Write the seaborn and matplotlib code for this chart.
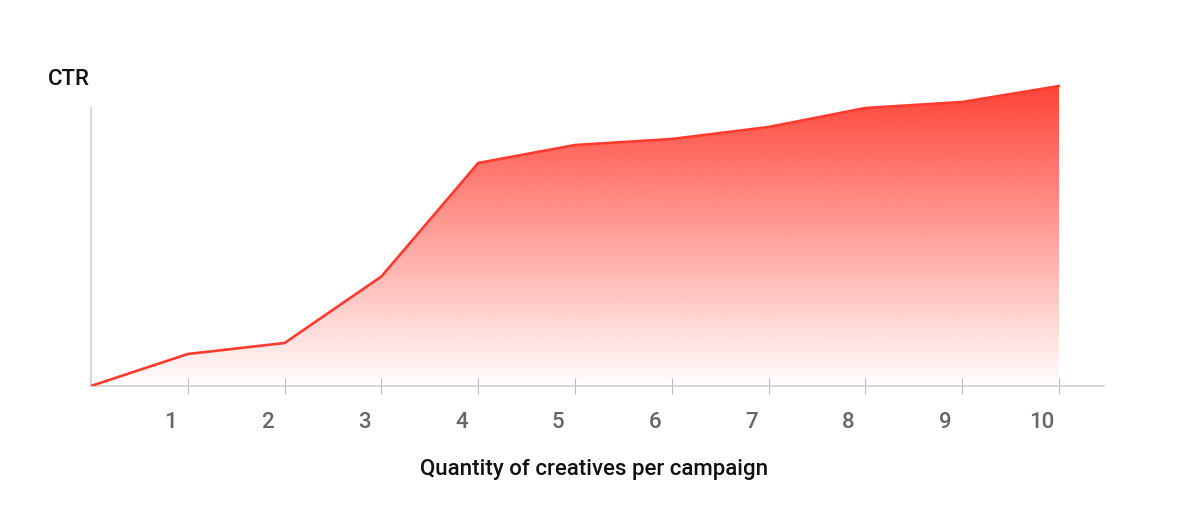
import numpy as np
import pandas as pd
import matplotlib
matplotlib.use("Agg")
import matplotlib.pyplot as plt
import matplotlib.transforms as mtransforms
import seaborn as sns

# ---- data ----
creatives = [0, 1, 2, 3, 4, 5, 6, 7, 8, 9, 10]
ctr = [0, 32, 43, 109.5, 223, 241, 247, 259, 278, 284, 300]
tick_positions = [1, 2, 3, 4, 5, 6, 7, 8, 9, 10]
tick_labels = ["1", "2", "3", "4", "5", "6", "7", "8", "9", "10"]
x_title = "Quantity of creatives per campaign"
y_title = "CTR"

sns.set_theme(style="white")
plt.rcParams["font.family"] = ["Roboto", "DejaVu Sans"]

df = pd.DataFrame({"x": creatives, "y": ctr})

W, H = 1190, 508
fig = plt.figure(figsize=(W / 100, H / 100), dpi=100)
ax = fig.add_axes([91 / W, (H - 386) / H, 1013 / W, (386 - 80) / H])

line_color = "#ff3b30"
top_rgb = np.array([255, 66, 54]) / 255.0

# gradient fill clipped to the area under the line
ymax = max(ctr)
grad = np.zeros((256, 1, 4))
grad[:, 0, :3] = top_rgb
grad[:, 0, 3] = np.linspace(1.0, 0.0, 256)
poly = ax.fill_between(creatives, ctr, 0, color="none", lw=0)
im = ax.imshow(grad, aspect="auto", extent=[min(creatives), max(creatives), 0, ymax],
               origin="upper", zorder=1, interpolation="bilinear")
clip_path = poly.get_paths()[0]
im.set_clip_path(clip_path, transform=ax.transData)

sns.lineplot(data=df, x="x", y="y", ax=ax, color=line_color, linewidth=1.9, zorder=3)

ax.set_xlim(0, 1013 / 96.8)
ax.set_ylim(0, 306)

for s in ["top", "right"]:
    ax.spines[s].set_visible(False)
for s in ["left", "bottom"]:
    ax.spines[s].set_color("#cccccc")
    ax.spines[s].set_linewidth(1.1)
ax.spines["left"].set_bounds(0, 278)

ax.set_yticks([])
ax.set_xticks(tick_positions)
ax.set_xticklabels(tick_labels, fontweight="medium")
ax.tick_params(axis="x", direction="inout", length=11, width=0.8, color="#bbbbbb",
               pad=13, labelsize=16, labelcolor="#666666", bottom=True)
offset = mtransforms.ScaledTranslation(-17 / 100, 0, fig.dpi_scale_trans)
for lbl in ax.get_xticklabels():
    lbl.set_transform(lbl.get_transform() + offset)

ax.set_xlabel(x_title, fontsize=16, color="#111111", fontweight="medium")
ax.xaxis.set_label_coords((594.5 - 91) / 1013, -(470 - 386) / 306)
ax.xaxis.label.set_va("center")
ax.set_ylabel(y_title, fontsize=16, color="#111111", rotation=0, ha="left", va="center",
              fontweight="medium")
ax.yaxis.set_label_coords((48 - 91) / 1013, 1.0)

ax.grid(False)
ax.set_facecolor("white")
fig.savefig("out.png", dpi=100, facecolor="white")
